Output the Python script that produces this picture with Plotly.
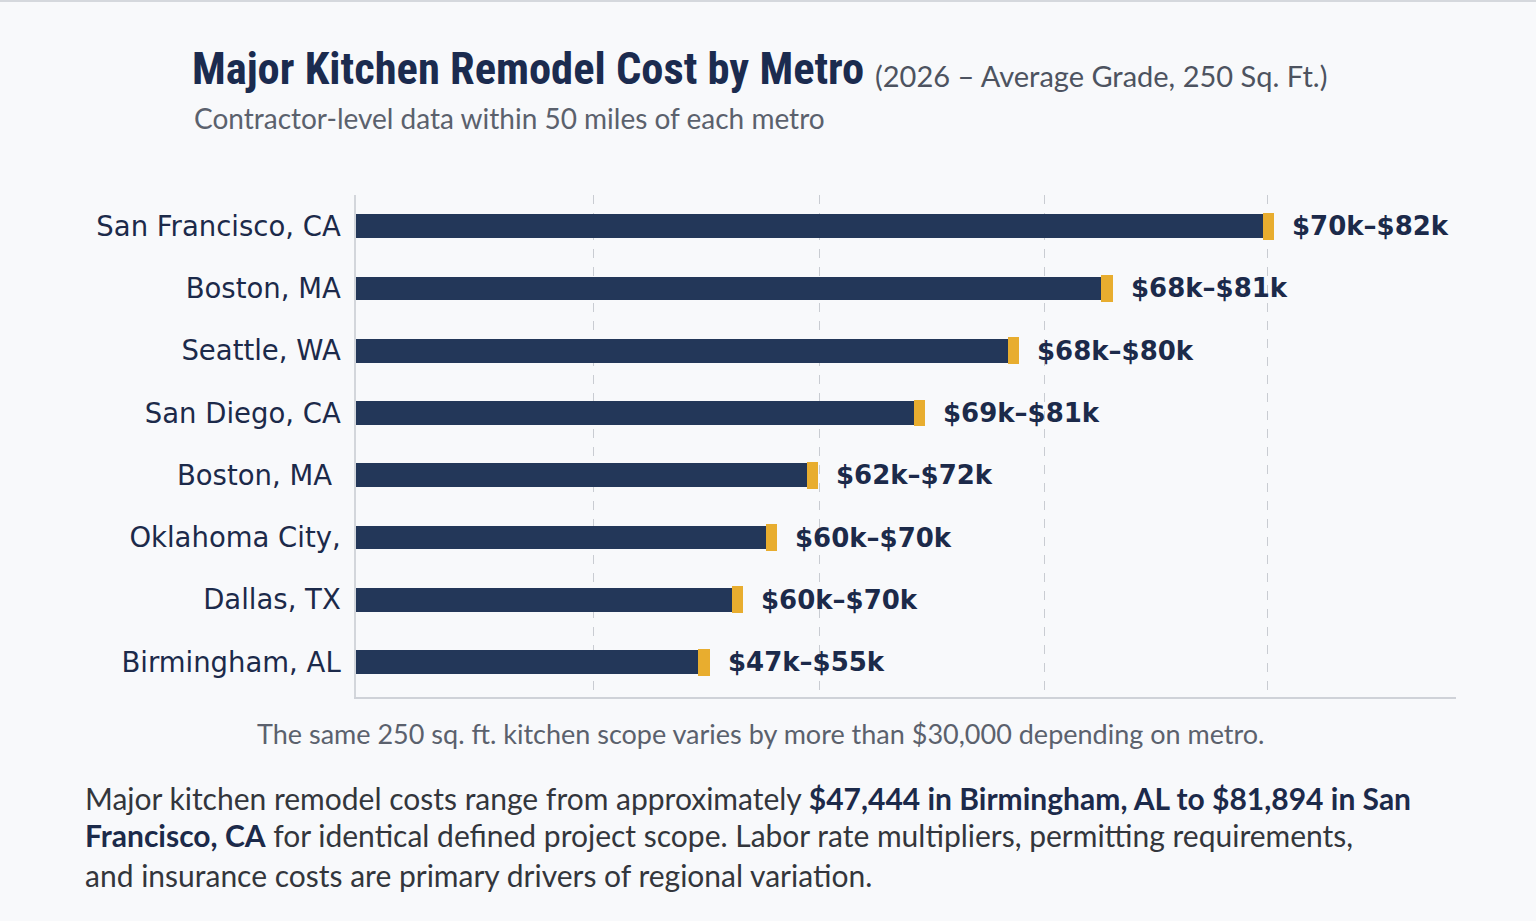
import plotly.graph_objects as go

# ---- data ----
metros = ["San Francisco, CA", "Boston, MA", "Seattle, WA", "San Diego, CA",
          "Boston, MA ", "Oklahoma City,", "Dallas, TX", "Birmingham, AL"]
bar_values = [80.8, 66.4, 58.1, 49.7, 40.2, 36.5, 33.5, 30.5]
range_low = ["$70k", "$68k", "$68k", "$69k", "$62k", "$60k", "$60k", "$47k"]
range_high = ["$82k", "$81k", "$80k", "$81k", "$72k", "$70k", "$70k", "$55k"]
grid_ticks = [21.2, 41.25, 61.3, 81.25]

# ---- style ----
W, H = 1536, 921
L, R, T, B = 356, 1456, 195, 697
NAVY = "#233759"
TEXT_NAVY = "#1c2a4a"
GOLD = "#e8ad2f"
BG = "#f8f9fb"
CAP = 1.0
BODY_FONT = "Lato, Noto Sans, sans-serif"
LABEL_FONT = "DejaVu Sans, Noto Sans, sans-serif"
TITLE_FONT = "Liberation Sans Narrow, Roboto Condensed, DejaVu Sans Condensed, Roboto, sans-serif"


def px_x(p):
    return (p - L) / (R - L)


def px_y(p):
    return (B - p) / (B - T)


labels = [f"{a}–{b}" for a, b in zip(range_low, range_high)]

fig = go.Figure()
fig.add_trace(go.Bar(
    y=metros, x=bar_values, orientation="h", width=0.38,
    marker=dict(color=NAVY, line=dict(width=0)), hoverinfo="skip",
))
fig.add_trace(go.Bar(
    y=metros, x=[CAP] * len(metros), base=bar_values, orientation="h", width=0.43,
    marker=dict(color=GOLD, line=dict(width=0)), hoverinfo="skip",
))

annotations = []
for m, v, t in zip(metros, bar_values, labels):
    annotations.append(dict(
        x=v + CAP, y=m, xref="x", yref="y", text=t, showarrow=False,
        xanchor="left", yanchor="middle", xshift=16,
        font=dict(family=LABEL_FONT, size=26, color=TEXT_NAVY, weight="bold"),
    ))

# Title
annotations.append(dict(
    x=px_x(190), y=px_y(69), xref="paper", yref="paper", showarrow=False,
    xanchor="left", yanchor="middle",
    text="<b>Major Kitchen Remodel Cost by Metro</b>",
    font=dict(family=TITLE_FONT, size=44.5, color="#1b2b4f"),
))
annotations.append(dict(
    x=px_x(873), y=px_y(75), xref="paper", yref="paper", showarrow=False,
    xanchor="left", yanchor="middle",
    text="(2026 – Average Grade, 250 Sq. Ft.)",
    font=dict(family=BODY_FONT, size=29, color="#4d5360"),
))
annotations.append(dict(
    x=px_x(192), y=px_y(118), xref="paper", yref="paper", showarrow=False,
    xanchor="left", yanchor="middle",
    text="Contractor-level data within 50 miles of each metro",
    font=dict(family=BODY_FONT, size=28, color="#5b616d"),
))
# caption
annotations.append(dict(
    x=px_x(761), y=px_y(733), xref="paper", yref="paper", showarrow=False,
    xanchor="center", yanchor="middle",
    text="The same 250 sq. ft. kitchen scope varies by more than $30,000 depending on metro.",
    font=dict(family=BODY_FONT, size=27, color="#5b616d"),
))
# paragraph
para = [
    "Major kitchen remodel costs range from approximately "
    "<span style='color:#1c2a4a;font-weight:bold'>$47,444 in Birmingham, AL to $81,894 in San</span>",
    "<span style='color:#1c2a4a;font-weight:bold'>Francisco, CA</span> for identical defined project scope. "
    "Labor rate multipliers, permitting requirements,",
    "and insurance costs are primary drivers of regional variation.",
]
for line, yc in zip(para, [798, 835, 875]):
    annotations.append(dict(
        x=px_x(83), y=px_y(yc), xref="paper", yref="paper", showarrow=False,
        xanchor="left", yanchor="middle", text=line,
        font=dict(family=BODY_FONT, size=30, color="#33363c"),
    ))

fig.update_layout(
    width=W, height=H,
    margin=dict(l=L, r=W - R, t=T, b=H - B, pad=0),
    paper_bgcolor=BG, plot_bgcolor=BG,
    barmode="overlay", showlegend=False, bargap=0,
    annotations=annotations,
    shapes=[dict(type="line", xref="paper", yref="paper",
                 x0=px_x(0), x1=px_x(W), y0=px_y(1), y1=px_y(1),
                 line=dict(color="#d5d8dd", width=2))],
)
fig.update_xaxes(
    range=[0, 98], tickvals=grid_ticks, showticklabels=False,
    showgrid=True, gridcolor="#c9ccd2", griddash="dash", gridwidth=1.2,
    showline=True, linecolor="#cfd2d8", linewidth=1.5, zeroline=False, ticks="",
)
fig.update_yaxes(
    categoryorder="array", categoryarray=metros, range=[7.56, -0.5],
    showline=True, linecolor="#d3d6db", linewidth=1.5, ticks="", showgrid=False,
    tickfont=dict(family=LABEL_FONT, size=27.5, color=TEXT_NAVY),
    ticklabelstandoff=8,
)

fig.write_html("out.html")
